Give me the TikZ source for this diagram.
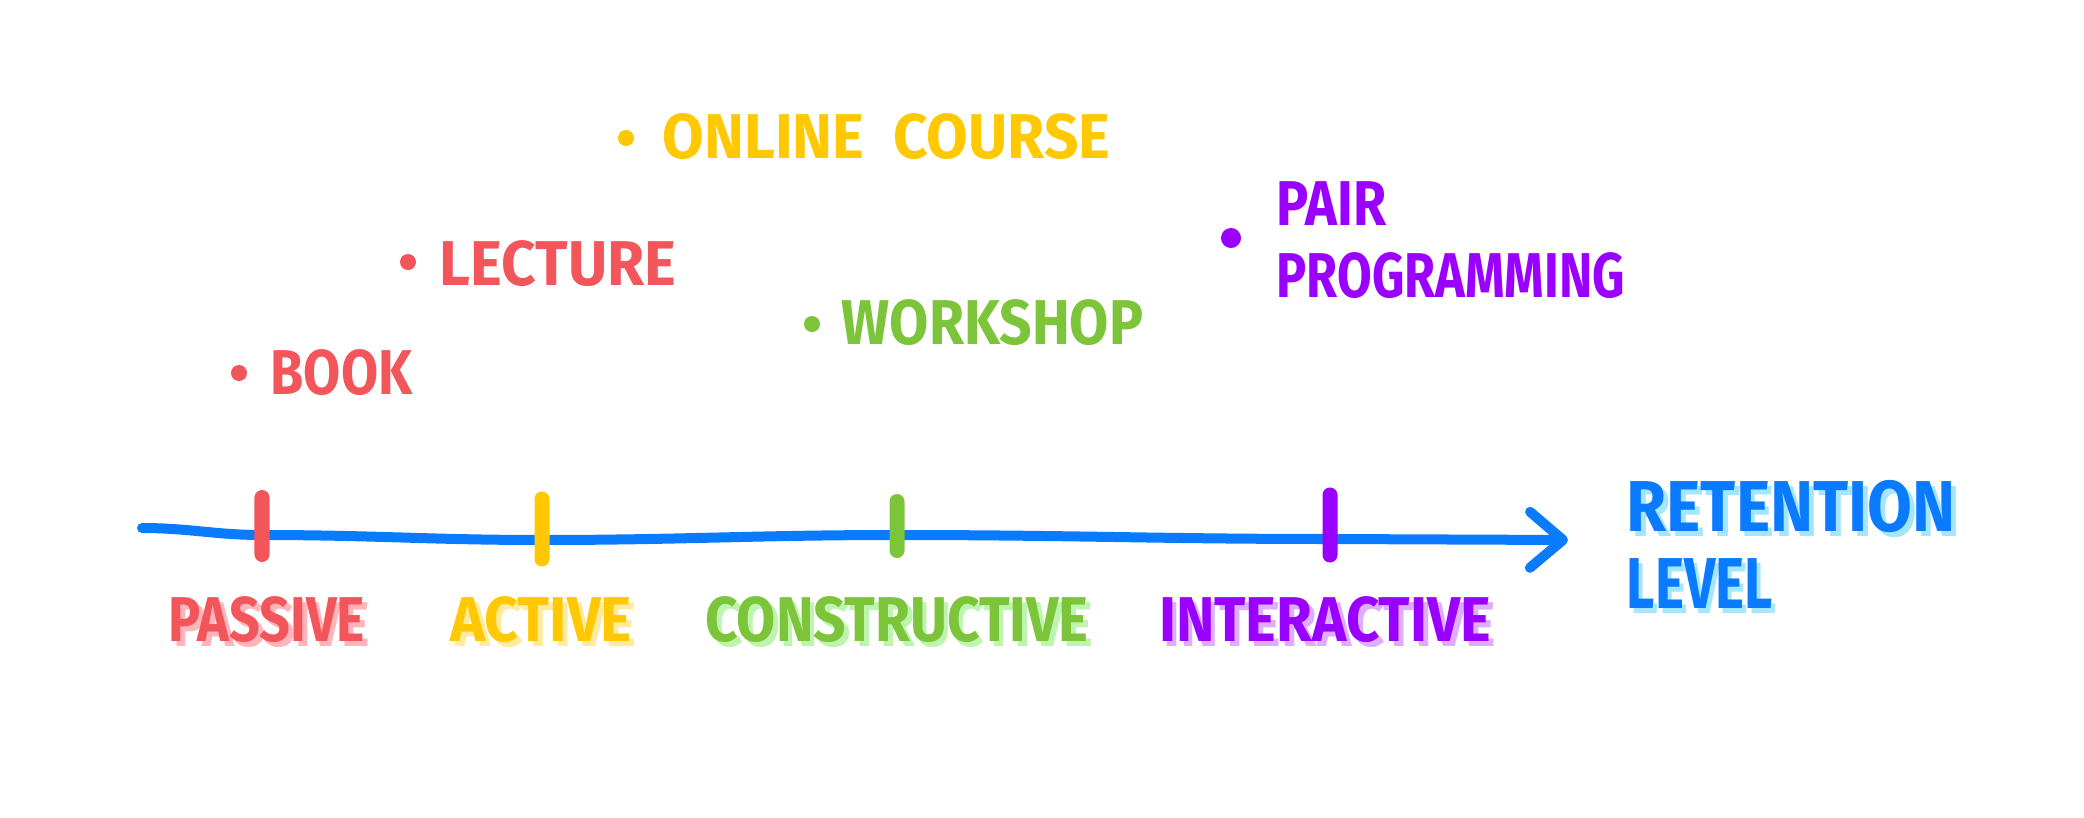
\documentclass[tikz,border=0pt]{standalone}
\usepackage{fontspec}
\usepackage{graphicx}
\usetikzlibrary{arrows.meta}

\newfontfamily\handfont[FakeStretch=0.85]{Fira Sans}

\definecolor{passivered}{HTML}{F2555A}
\definecolor{activeyellow}{HTML}{FFC800}
\definecolor{constructgreen}{HTML}{7CC43A}
\definecolor{interpurple}{HTML}{9A00FF}
\definecolor{retblue}{HTML}{0A7BFF}
\definecolor{passivelight}{HTML}{FFB5BA}
\definecolor{activelight}{HTML}{FFEAA0}
\definecolor{constructlight}{HTML}{BDF5AE}
\definecolor{interlight}{HTML}{DDAEFF}
\definecolor{retlight}{HTML}{A5E6FF}

% text with a light copy set a little down and right
\newcommand{\shadowed}[2]{\makebox[0pt][l]{\hspace{1.3pt}\raisebox{-1.3pt}{\textcolor{#1}{#2}}}#2}
\newcommand{\widen}[2]{\scalebox{#1}[1]{#2}}

\begin{document}
\begin{tikzpicture}[x=0.01cm,y=-0.01cm]
    \tikzstyle{tickbar} = [rectangle, rounded corners=0.075cm, minimum width=0.15cm,
    inner sep=0pt]
    \tikzstyle{bullet} = [circle, inner sep=0pt, minimum size=0.16cm]
    \tikzstyle{item} = [anchor=west, inner sep=0pt, align=left,
    font=\handfont\bfseries\fontsize{18}{20.7}\selectfont]
    \tikzstyle{stage} = [inner sep=0pt,
    font=\handfont\bfseries\fontsize{18}{20}\selectfont]

    \useasboundingbox (0,0) rectangle (2084,818);

    % axis
    \coordinate (start) at (142,528);
    \coordinate (end) at (1568,540);
    \draw [retblue, line width=0.1cm, line cap=round,
    -{Straight Barb[length=0.33cm, width=0.56cm, line width=0.1cm, round]}]
    (start) to[out=0,in=180] (262,535) to[out=0,in=180] (541,540)
    to[out=0,in=180] (897,535) to[out=0,in=180] (1330,539) -- (end);

    \draw
    (262,526) node [tickbar, fill=passivered, minimum height=0.72cm] (tp) {}
    (542,529) node [tickbar, fill=activeyellow, minimum height=0.75cm] (ta) {}
    (897,526) node [tickbar, fill=constructgreen, minimum height=0.64cm] (tc) {}
    (1330,525) node [tickbar, fill=interpurple, minimum height=0.75cm] (ti) {}

    (267,622) node [stage, passivered] (passive) {\shadowed{passivelight}{PASSIVE}}
    (541,622) node [stage, activeyellow] (active)
    {\widen{1.1}{\shadowed{activelight}{ACTIVE}}}
    (897,622) node [stage, constructgreen] (constructive)
    {\widen{1.055}{\shadowed{constructlight}{CONSTRUCTIVE}}}
    (1325,622) node [stage, interpurple] (interactive)
    {\widen{1.08}{\shadowed{interlight}{INTERACTIVE}}}

    (1626,547) node [item, retblue, font=\handfont\bfseries\fontsize{20.5}{22}\selectfont] (retention)
    {\widen{1.06}{\shadowed{retlight}{RETENTION}}\\\widen{0.9}{\shadowed{retlight}{LEVEL}}}
;

    % examples
    \draw
    (239,373) node [bullet, fill=passivered] (b1) {}
    (270,373) node [item, passivered] (book) {BOOK}
    (408,262) node [bullet, fill=passivered] (b2) {}
    (439,264) node [item, passivered] (lecture) {\widen{1.12}{LECTURE}}
    (626,138) node [bullet, fill=activeyellow] (b3) {}
    (662,137) node [item, activeyellow] (online) {\widen{1.12}{ONLINE\ \ COURSE}}
    (812,324) node [bullet, fill=constructgreen] (b4) {}
    (841,323) node [item, constructgreen] (workshop) {\widen{1.056}{WORKSHOP}}
    (1231,238) node [bullet, fill=interpurple, minimum size=0.2cm] (b5) {}
    (1276,240) node [item, interpurple] (pair) {PAIR\\\widen{0.935}{PROGRAMMING}}
;

  \end{tikzpicture}
\end{document}
